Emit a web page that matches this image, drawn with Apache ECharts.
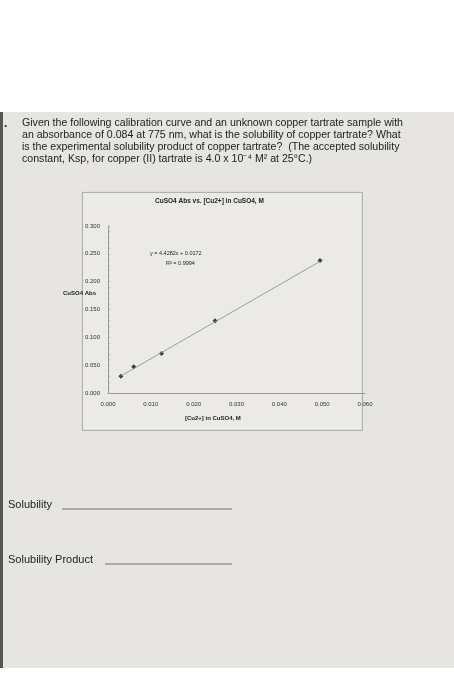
<!DOCTYPE html>
<html><head><meta charset="utf-8">
<script src="https://cdn.jsdelivr.net/npm/echarts@6/dist/echarts.min.js"></script>
<style>html,body{margin:0;padding:0;background:#fff}#c{width:454px;height:700px}</style>
</head><body><div id="c"></div>
<script>
const concentrations = [0.003, 0.006, 0.0125, 0.025, 0.0495];
const absorbances = [0.030, 0.047, 0.071, 0.130, 0.238];
const fitSlope = 4.4282, fitIntercept = 0.0172;
const xTicks = [0, 0.01, 0.02, 0.03, 0.04, 0.05, 0.06];
const yTicks = [0, 0.05, 0.1, 0.15, 0.2, 0.25, 0.3];
const chartTitle = 'CuSO4 Abs vs. [Cu2+] in CuSO4, M';
const xName = '[Cu2+] in CuSO4, M', yName = 'CuSO4 Abs';
const eqText = 'y = 4.4282x + 0.0172', r2Text = 'R² = 0.9994';

const pts = concentrations.map((x,i)=>[x, absorbances[i]]);
const xs = [concentrations[0], concentrations[concentrations.length-1]];
const fit = xs.map(x=>[x, fitSlope*x+fitIntercept]);
const F = 'Liberation Sans, Arial, sans-serif';
const ch = echarts.init(document.getElementById('c'));
const txt = (x,y,t,opt={}) => ({type:'text', left:x, top:y, z:10, style:Object.assign({text:t, font:'12px '+F, fill:'#222'}, opt)});
ch.setOption({
  backgroundColor:'#e6e5e2',
  animation:false,
  graphic:[
    {type:'rect', left:0, top:0, z:-1, shape:{width:454,height:112}, style:{fill:'#ffffff'}},
    {type:'rect', left:0, top:668, z:-1, shape:{width:454,height:32}, style:{fill:'#ffffff'}},
    {type:'rect', left:0, top:112, z:-1, shape:{width:3,height:556}, style:{fill:'#555'}},
    {type:'rect', left:82, top:192, z:-1, shape:{width:280,height:238}, style:{fill:'#ebeae7', stroke:'#999', lineWidth:0.8}},
    txt(4,118,'.', {font:'bold 12px '+F}),
    txt(22,118,'Given the following calibration curve and an unknown copper tartrate sample with', {font:'10.6px '+F}),
    txt(22,130,'an absorbance of 0.084 at 775 nm, what is the solubility of copper tartrate? What', {font:'10.6px '+F}),
    txt(22,142,'is the experimental solubility product of copper tartrate?  (The accepted solubility', {font:'10.6px '+F}),
    txt(22,154,'constant, Ksp, for copper (II) tartrate is 4.0 x 10⁻⁴ M² at 25°C.)', {font:'10.6px '+F}),
    txt(155,198,chartTitle, {font:'bold 6.5px '+F}),
    txt(63,290,yName, {font:'bold 6px '+F}),
    txt(185,415,xName, {font:'bold 6px '+F}),
    txt(150,250,eqText, {font:'5.5px '+F}),
    txt(166,260,r2Text, {font:'5.5px '+F}),
    txt(8,499,'Solubility', {font:'11px '+F}),
    {type:'line', z:10, shape:{x1:62,y1:509,x2:232,y2:509}, style:{stroke:'#555', lineWidth:0.8}},
    txt(8,554,'Solubility Product', {font:'11px '+F}),
    {type:'line', z:10, shape:{x1:105,y1:564,x2:232,y2:564}, style:{stroke:'#555', lineWidth:0.8}}
  ],
  grid:{left:108, right:89, top:226, bottom:307},
  xAxis:{type:'value', min:0, max:0.06, interval:0.01,
    axisLine:{lineStyle:{color:'#999'}}, axisTick:{show:false}, splitLine:{show:false},
    axisLabel:{fontSize:6, color:'#333', fontFamily:F, formatter:v=>v.toFixed(3)}},
  yAxis:{type:'value', min:0, max:0.3, interval:0.05,
    axisLine:{show:true, lineStyle:{color:'#999'}}, axisTick:{show:true, inside:true, length:2, lineStyle:{color:'#aaa'}},
    minorTick:{show:true, splitNumber:5, length:1.5}, splitLine:{show:false},
    axisLabel:{fontSize:6, color:'#333', fontFamily:F, formatter:v=>v.toFixed(3)}},
  series:[
    {type:'line', data:fit, symbol:'none', lineStyle:{color:'#888', width:0.8}},
    {type:'scatter', data:pts, symbol:'diamond', symbolSize:5, itemStyle:{color:'#111'}}
  ]
});
</script></body></html>
